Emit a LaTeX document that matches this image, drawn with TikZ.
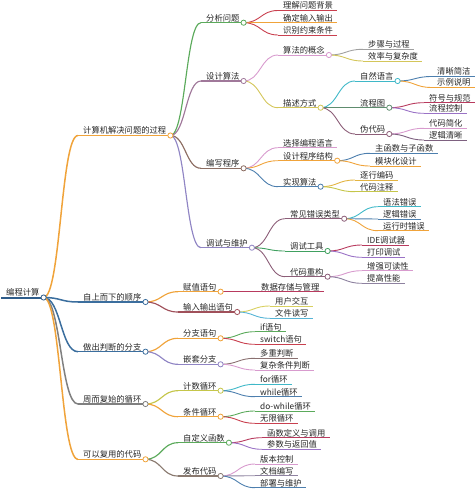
\documentclass[tikz,border=0pt]{standalone}
\usepackage{fontspec}
\setmainfont{Noto Sans CJK SC}
\usetikzlibrary{calc}
\definecolor{cRoot}{HTML}{2E5C8A}
\definecolor{cOr}{HTML}{F0A33A}
\definecolor{cBlue}{HTML}{3B6E9E}
\definecolor{cGray}{HTML}{808080}
\definecolor{cGreen}{HTML}{5BAA5B}
\definecolor{cMauve}{HTML}{A0789A}
\definecolor{cBrown}{HTML}{8C6D62}
\definecolor{cPurple}{HTML}{9085C4}
\definecolor{cRed}{HTML}{C9404F}
\definecolor{cPink}{HTML}{D89BCE}
\definecolor{cOlive}{HTML}{D4C65A}
\definecolor{cGrayL}{HTML}{A0A0A0}
\definecolor{cTeal}{HTML}{3FB8C8}
\definecolor{cDkGreen}{HTML}{5E8C6E}
\definecolor{cPlum}{HTML}{8C5E78}
\definecolor{cSteel}{HTML}{4D7FAE}
\definecolor{cCrimson}{HTML}{B83A5E}
\definecolor{cViolet}{HTML}{9A72C6}
\definecolor{cPlumGray}{HTML}{7E6180}
\definecolor{cYellow}{HTML}{E3B442}
\definecolor{cYG}{HTML}{C5C64A}
\definecolor{cLB}{HTML}{56B4D6}
\definecolor{cPG}{HTML}{8E82A0}
\definecolor{cBrRed}{HTML}{A0505A}
\definecolor{cGBr}{HTML}{8A7A70}
\definecolor{cLYel}{HTML}{D8D060}
\definecolor{cGreen2}{HTML}{40A060}
\definecolor{cBr2}{HTML}{8A7070}
\tikzset{
  mmtext/.style={anchor=base west, inner sep=0pt, font=\fontsize{8.3}{9.5}\selectfont, text=black!85},
  lvA/.style={line width=1.5pt},
  lvB/.style={line width=1.15pt},
  lvC/.style={line width=0.9pt},
  knob/.style={fill=white, line width=0.8pt}
}
% name, parent, text x, underline y, color, width style, text
\newcommand\mmn[7]{%
  \node[mmtext] (#1) at (#3,{#4-1.6}) {#7};
  \coordinate (#1-s) at ({#3-5},#4);
  \coordinate (#1-e) at ($(#1.base east |- #1-s)+(4,0)$);
  \draw[#5,#6] (#1-s) -- (#1-e);
  \draw[#5,#6] let \p1=(#2-e), \p2=(#1-s), \p3=($(\p1)!0.5!(\p2)$) in
    (\p1) .. controls (\x3,\y1) and (\x3,\y2) .. (\p2);
}
\newcommand\mmk[2]{\draw[#2,knob] (#1-e) circle[radius=2.6pt];}
\begin{document}
\begin{tikzpicture}[x=1pt,y=-1pt]
\useasboundingbox (0,0) rectangle (474,503);
% root
\node[mmtext] (R) at (6,{297.5-1.8}) {编程计算};
\coordinate (R-s) at (1,297.5);
\coordinate (R-e) at ($(R.base east |- R-s)+(4,0)$);
\draw[cRoot,line width=2pt] (R-s) -- (R-e);
% level 1
\mmn{A}{R}{83}{135.5}{cOr}{lvA}{计算机解决问题的过程}
\mmn{B}{R}{83}{302}{cBlue}{lvA}{自上而下的顺序}
\mmn{C}{R}{83}{351.7}{cBlue}{lvA}{做出判断的分支}
\mmn{D}{R}{83}{404}{cGray}{lvA}{周而复始的循环}
\mmn{E}{R}{83}{459.3}{cOr}{lvA}{可以复用的代码}
% level 2
\mmn{A1}{A}{206}{22.7}{cGreen}{lvB}{分析问题}
\mmn{A2}{A}{206}{81}{cMauve}{lvB}{设计算法}
\mmn{A3}{A}{206}{168.3}{cBrown}{lvB}{编写程序}
\mmn{A4}{A}{206}{247.7}{cPurple}{lvB}{调试与维护}
\mmn{B1}{B}{183}{291.7}{cOr}{lvB}{赋值语句}
\mmn{B2}{B}{183}{312}{cBrRed}{lvB}{输入输出语句}
\mmn{C1}{C}{183}{338.3}{cOr}{lvB}{分支语句}
\mmn{C2}{C}{183}{364.3}{cPurple}{lvB}{嵌套分支}
\mmn{D1}{D}{183}{390.7}{cYG}{lvB}{计数循环}
\mmn{D2}{D}{183}{416.7}{cOr}{lvB}{条件循环}
\mmn{E1}{E}{183}{442.7}{cGreen}{lvB}{自定义函数}
\mmn{E2}{E}{183}{476}{cGBr}{lvB}{发布代码}
% level 3
\mmn{A1a}{A1}{283}{10.5}{cRed}{lvC}{理解问题背景}
\mmn{A1b}{A1}{283}{22.7}{cOr}{lvC}{确定输入输出}
\mmn{A1c}{A1}{283}{35}{cRed}{lvC}{识别约束条件}
\mmn{A2a}{A2}{283}{55}{cPink}{lvC}{算法的概念}
\mmn{A2b}{A2}{283}{107.7}{cOlive}{lvC}{描述方式}
\mmn{A3a}{A3}{283}{147.7}{cPink}{lvC}{选择编程语言}
\mmn{A3b}{A3}{283}{160.7}{cOr}{lvC}{设计程序结构}
\mmn{A3c}{A3}{283}{186.7}{cSteel}{lvC}{实现算法}
\mmn{A4a}{A4}{290}{218.7}{cPlum}{lvC}{常见错误类型}
\mmn{A4b}{A4}{290}{251}{cGreen2}{lvC}{调试工具}
\mmn{A4c}{A4}{290}{276.7}{cPlum}{lvC}{代码重构}
\mmn{B1a}{B1}{261}{291.7}{cCrimson}{lvC}{数据存储与管理}
\mmn{B2a}{B2}{275}{306}{cLYel}{lvC}{用户交互}
\mmn{B2b}{B2}{275}{318.3}{cLB}{lvC}{文件读写}
\mmn{C1a}{C1}{260}{331.7}{cGreen}{lvC}{if语句}
\mmn{C1b}{C1}{260}{344.3}{cRed}{lvC}{switch语句}
\mmn{C2a}{C2}{260}{358.3}{cBr2}{lvC}{多重判断}
\mmn{C2b}{C2}{260}{370}{cPink}{lvC}{复杂条件判断}
\mmn{D1a}{D1}{260}{384.3}{cTeal}{lvC}{for循环}
\mmn{D1b}{D1}{260}{396.7}{cSteel}{lvC}{while循环}
\mmn{D2a}{D2}{260}{411}{cGreen}{lvC}{do-while循环}
\mmn{D2b}{D2}{260}{423.3}{cRed}{lvC}{无限循环}
\mmn{E1a}{E1}{267}{437.7}{cCrimson}{lvC}{函数定义与调用}
\mmn{E1b}{E1}{267}{449.3}{cViolet}{lvC}{参数与返回值}
\mmn{E2a}{E2}{260}{464}{cPink}{lvC}{版本控制}
\mmn{E2b}{E2}{260}{475.7}{cPG}{lvC}{文档编写}
\mmn{E2c}{E2}{260}{487.7}{cSteel}{lvC}{部署与维护}
% level 4
\mmn{A2a1}{A2a}{368}{49.3}{cGrayL}{lvC}{步骤与过程}
\mmn{A2a2}{A2a}{368}{61}{cOlive}{lvC}{效率与复杂度}
\mmn{A2b1}{A2b}{360}{81}{cTeal}{lvC}{自然语言}
\mmn{A2b2}{A2b}{360}{107.7}{cDkGreen}{lvC}{流程图}
\mmn{A2b3}{A2b}{360}{134}{cPlum}{lvC}{伪代码}
\mmn{A3b1}{A3b}{375}{153.3}{cSteel}{lvC}{主函数与子函数}
\mmn{A3b2}{A3b}{375}{166}{cOr}{lvC}{模块化设计}
\mmn{A3c1}{A3c}{360}{180}{cYellow}{lvC}{逐行编码}
\mmn{A3c2}{A3c}{360}{191.7}{cYG}{lvC}{代码注释}
\mmn{A4a1}{A4a}{383}{206.7}{cTeal}{lvC}{语法错误}
\mmn{A4a2}{A4a}{383}{219}{cSteel}{lvC}{逻辑错误}
\mmn{A4a3}{A4a}{383}{230.7}{cOr}{lvC}{运行时错误}
\mmn{A4b1}{A4b}{367}{245}{cCrimson}{lvC}{IDE调试器}
\mmn{A4b2}{A4b}{367}{257.3}{cViolet}{lvC}{打印调试}
\mmn{A4c1}{A4c}{367}{270.7}{cPink}{lvC}{增强可读性}
\mmn{A4c2}{A4c}{367}{283.3}{cPG}{lvC}{提高性能}
% level 5
\mmn{N1}{A2b1}{437}{76.5}{cSteel}{lvC}{清晰简洁}
\mmn{N2}{A2b1}{437}{87.5}{cOr}{lvC}{示例说明}
\mmn{F1}{A2b2}{429}{102.7}{cCrimson}{lvC}{符号与规范}
\mmn{F2}{A2b2}{429}{113.3}{cViolet}{lvC}{流程控制}
\mmn{P1}{A2b3}{429}{128.3}{cPink}{lvC}{代码简化}
\mmn{P2}{A2b3}{429}{140}{cPlumGray}{lvC}{逻辑清晰}
% knobs
\mmk{R}{cRoot}
\mmk{A}{cOr}\mmk{B}{cBlue}\mmk{C}{cBlue}\mmk{D}{cGray}\mmk{E}{cOr}
\mmk{A1}{cGreen}\mmk{A2}{cMauve}\mmk{A3}{cBrown}\mmk{A4}{cPurple}
\mmk{B1}{cOr}\mmk{B2}{cBrRed}\mmk{C1}{cOr}\mmk{C2}{cPurple}
\mmk{D1}{cYG}\mmk{D2}{cOr}\mmk{E1}{cGreen}\mmk{E2}{cGBr}
\mmk{A2a}{cPink}\mmk{A2b}{cOlive}\mmk{A3b}{cOr}\mmk{A3c}{cSteel}
\mmk{A4a}{cPlum}\mmk{A4b}{cGreen2}\mmk{A4c}{cPlum}
\mmk{A2b1}{cTeal}\mmk{A2b2}{cDkGreen}\mmk{A2b3}{cPlum}
\end{tikzpicture}
\end{document}
